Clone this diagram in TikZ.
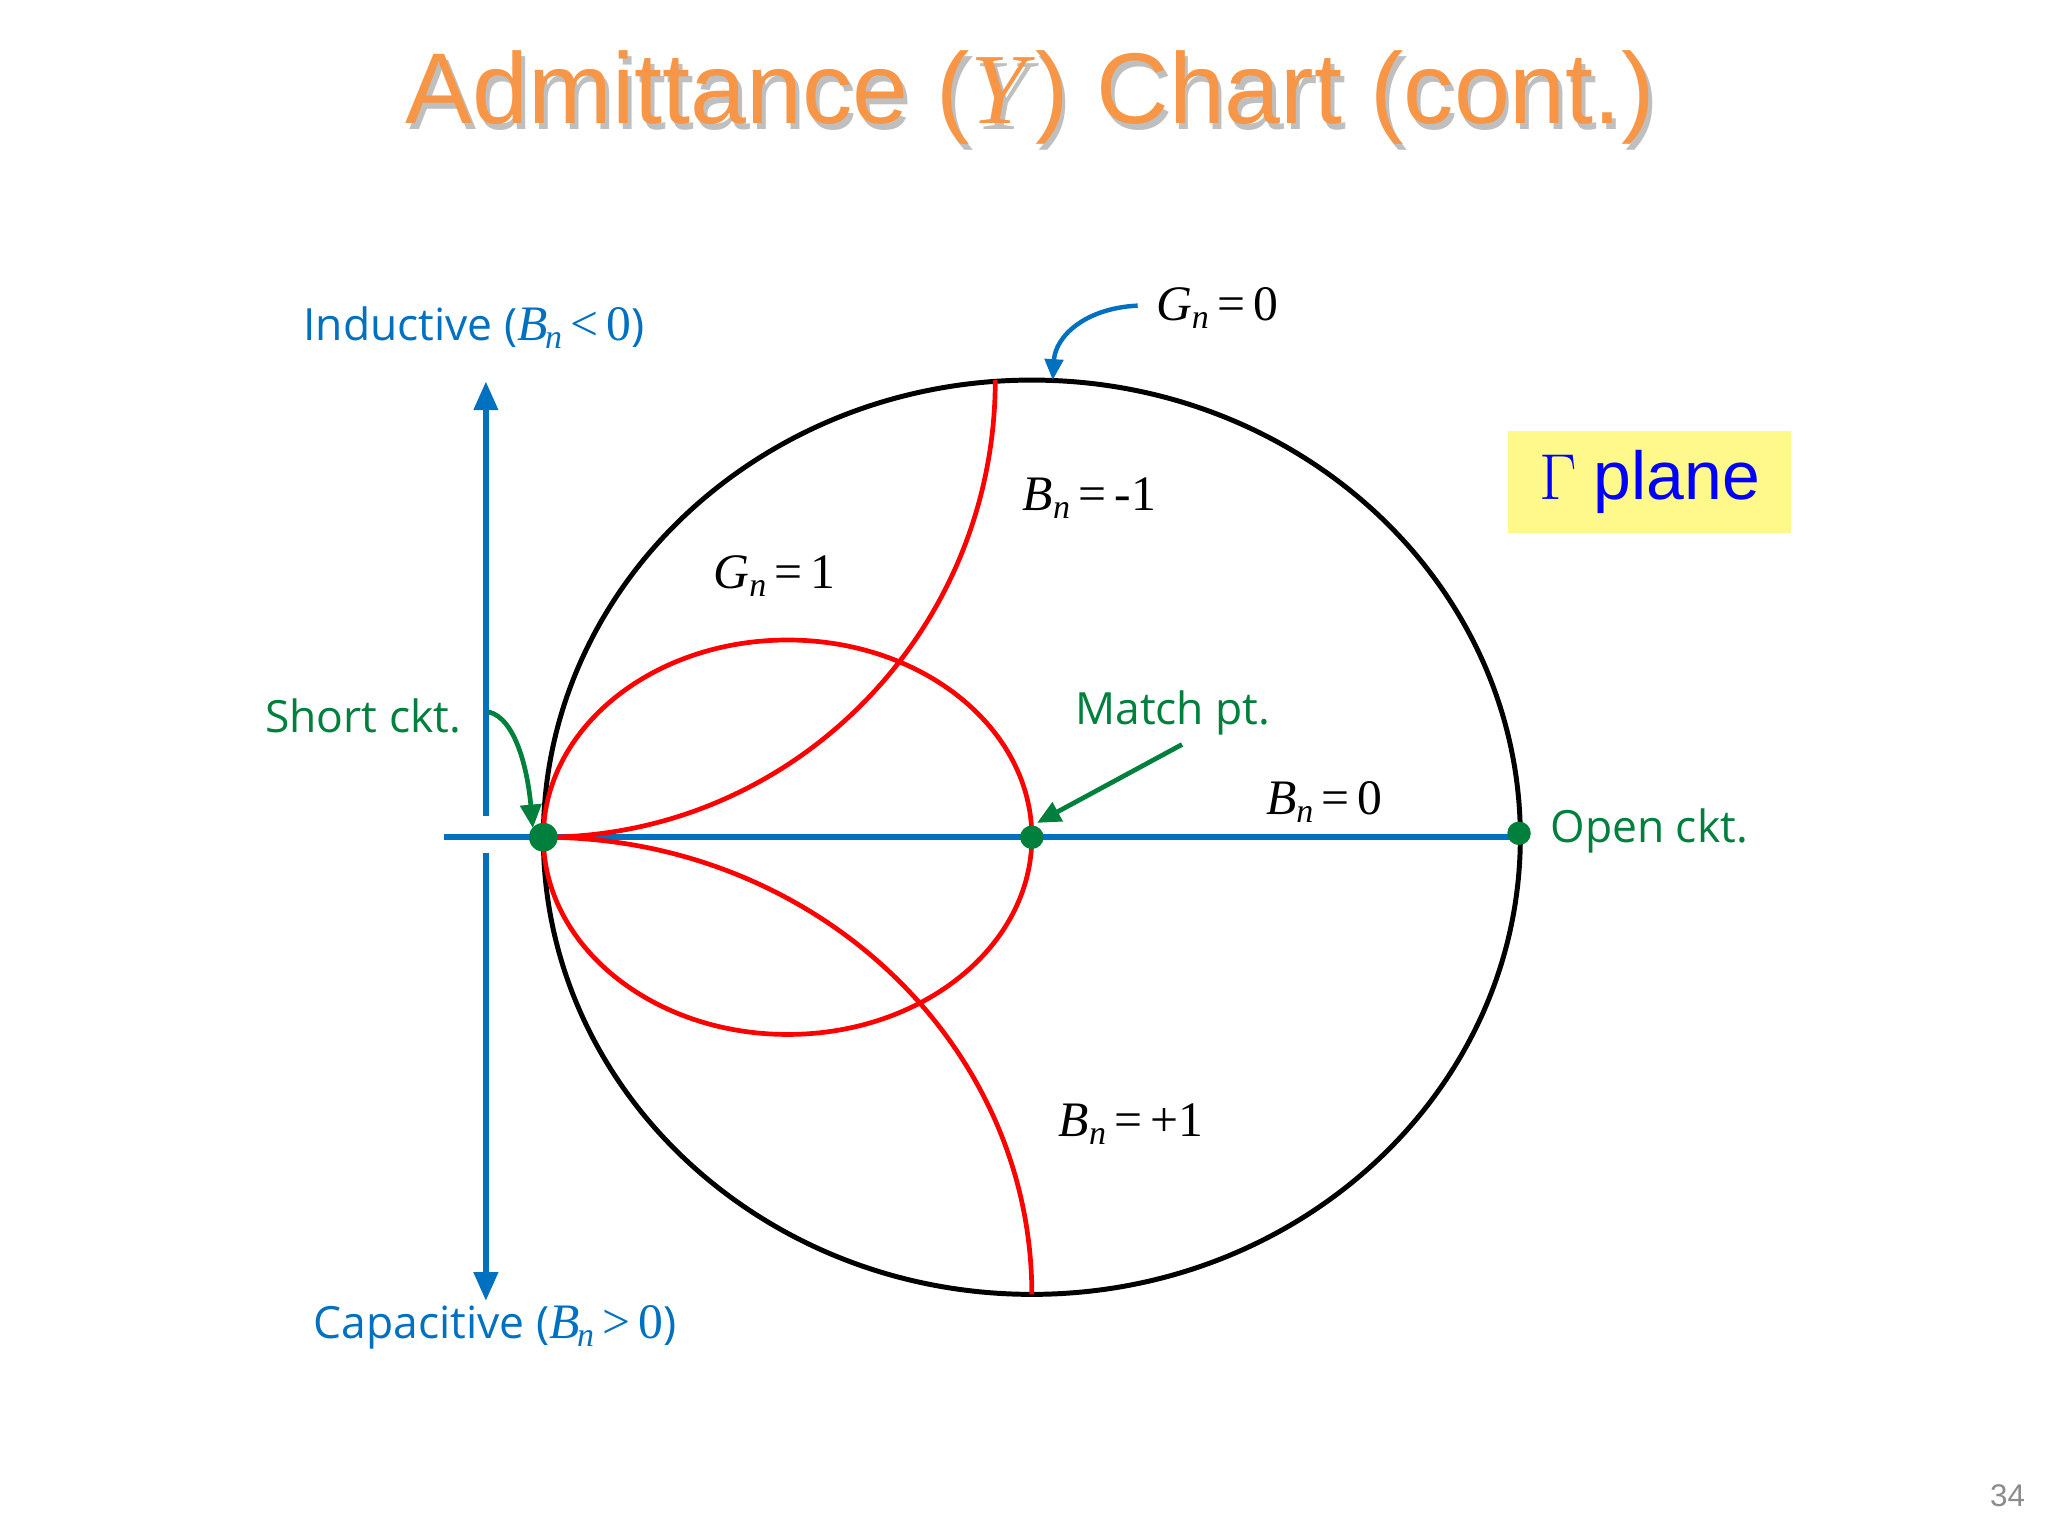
\documentclass[tikz,border=0pt]{standalone}
\usepackage{fontspec}
\setmainfont{Liberation Serif}
\newfontfamily\arial{Liberation Sans}
\newfontfamily\carl{Open Sans}
\usetikzlibrary{arrows.meta}
\definecolor{ablue}{RGB}{0,112,192}
\definecolor{agreen}{RGB}{0,128,60}
\definecolor{aorange}{RGB}{247,150,70}
\tikzset{
  lab/.style={font=\carl\fontsize{17}{19}\selectfont},
  mlab/.style={font=\fontsize{19}{20}\selectfont},
  dotg/.style={fill=agreen,draw=none},
}
\newcommand{\sbn}{\raisebox{-0.35ex}{\fontsize{13}{14}\selectfont n}}
\begin{document}
\begin{tikzpicture}[x=0.5pt,y=-0.5pt]
\useasboundingbox (0,0) rectangle (1568,1176);
% title
\node[text=black!25] at (792,79) {\arial\fontsize{38.5}{40}\selectfont Admittance (\textit{\rmfamily Y}) Chart (cont.)};
\node[text=aorange] (title) at (789,75) {\arial\fontsize{38.5}{40}\selectfont Admittance (\textit{\rmfamily Y}) Chart (cont.)};
% axes
\draw[ablue,line width=2.2pt] (340,641) -- (1163,641);
\coordinate (vt) at (372,292);
\coordinate (vb) at (372,996);
\draw[ablue,line width=2.2pt,-{Triangle[length=11pt,width=9pt]}] (372,625) -- (vt);
\draw[ablue,line width=2.2pt,-{Triangle[length=11pt,width=9pt]}] (372,653) -- (vb);
% circles
\draw[black,line width=1.9pt] (790,641) ellipse[x radius=187pt,y radius=175pt];
\draw[red,line width=1.8pt] (603,641) ellipse[x radius=93.5pt,y radius=75.5pt];
\draw[red,line width=1.8pt] (416,641) arc[start angle=270,end angle=360,x radius=173pt,y radius=175pt];
\draw[red,line width=1.8pt] (416,641) arc[start angle=90,end angle=0,x radius=187pt,y radius=175pt];
% dots
\fill[dotg] (416,641) circle (5.5pt) coordinate (sc);
\fill[dotg] (790,641) circle (4.5pt) coordinate (mp);
\fill[dotg] (1163,638) circle (4.5pt) coordinate (oc);
% labels
\node[lab,text=ablue] (ind) at (363,251) {Inductive ({\rmfamily\fontsize{19}{20}\selectfont\textit{B\kern-1pt\sbn}\,<\,0})};
\node[lab,text=ablue] (cap) at (379,1016) {Capacitive ({\rmfamily\fontsize{19}{20}\selectfont\textit{B\kern-1pt\sbn}\,>\,0})};
\node[lab,text=agreen] (sct) at (278,548) {Short ckt.};
\node[lab,text=agreen] (mpt) at (898,546) {Match pt.};
\node[lab,text=agreen,anchor=west] (oct) at (1180,636) {Open ckt.};
\node[mlab,anchor=west] (g0) at (878,236) {\textit{G\sbn}\,=\,0};
\node[mlab] (g1) at (593,441) {\textit{G\sbn}\,=\,1};
\node[mlab] (bm1) at (834,381) {\textit{B\sbn}\,=\,-1};
\node[mlab] (b0) at (1014,614) {\textit{B\sbn}\,=\,0};
\node[mlab] (bp1) at (866,861) {\textit{B\sbn}\,=\,+1};
% arrows
\coordinate (g0a) at (806,291);
\draw[ablue,line width=1.7pt,-{Triangle[length=8pt,width=7pt]}] (871,234) .. controls (830,236) and (808,258) .. (g0a);
\coordinate (sca) at (408,634);
\draw[agreen,line width=1.8pt,-{Triangle[length=9pt,width=8pt]}] (374,545) .. controls (395,550) and (404,590) .. (sca);
\coordinate (mpa) at (794,630);
\draw[agreen,line width=1.8pt,-{Triangle[length=9pt,width=8pt]}] (905,570) -- (mpa);
% gamma plane
\node[fill=yellow!45,minimum width=108.5pt,minimum height=39pt,inner sep=0pt] (gp) at (1263,369) {\color{blue}\fontsize{26}{28}\selectfont $\Gamma$ \arial plane};
\node[text=black!45] (pn) at (1537,1145) {\arial\fontsize{12}{14}\selectfont 34};
\end{tikzpicture}
\end{document}
